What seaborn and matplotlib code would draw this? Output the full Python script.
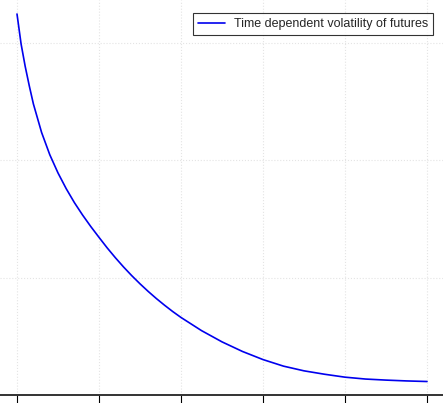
"""Time dependent volatility of futures - decay curve."""

import matplotlib

matplotlib.use("Agg")
import matplotlib.pyplot as plt
import pandas as pd
import seaborn as sns

# values
time_to_maturity = [0.0, 0.05, 0.1, 0.15, 0.2, 0.3, 0.4, 0.5, 0.6, 0.7, 0.8, 0.9,
                    1.0, 1.1, 1.2, 1.3, 1.4, 1.5, 1.6, 1.7, 1.8, 1.9, 2.0,
                    2.25, 2.5, 2.75, 3.0, 3.25, 3.5, 3.75, 4.0, 4.25, 4.5, 4.75, 5.0]
volatility = [3.248, 2.992, 2.801, 2.635, 2.481, 2.238, 2.048, 1.893, 1.759, 1.640,
              1.534, 1.436, 1.344, 1.254, 1.170, 1.091, 1.017, 0.948, 0.883, 0.822,
              0.765, 0.711, 0.661, 0.549, 0.453, 0.371, 0.302, 0.246, 0.206, 0.177,
              0.152, 0.136, 0.127, 0.120, 0.115]
x_ticks = [0, 1, 2, 3, 4, 5]
y_ticks = [0, 1, 2, 3]
series_label = "Time dependent volatility of futures"

sns.set_style("white")
plt.rcParams["font.family"] = ["Liberation Sans", "DejaVu Sans"]

data = pd.DataFrame({"t": time_to_maturity, "vol": volatility})

fig = plt.figure(figsize=(4.43, 4.03), dpi=100)
ax = fig.add_axes([0, 8 / 403, 1, 395 / 403])

sns.lineplot(data=data, x="t", y="vol", color="#0000ee", linewidth=1.2,
             label=series_label, ax=ax)

ax.set_xlim(-17 / 82, 426 / 82)
ax.set_ylim(0, 395 / 117.3)
ax.set_xticks(x_ticks)
ax.set_yticks(y_ticks)
ax.set_xticklabels([])
ax.set_yticklabels([])
ax.set_xlabel("")
ax.set_ylabel("")
ax.grid(True, color="#e4e4e4", linestyle=":", linewidth=0.8)
ax.tick_params(axis="x", direction="out", length=6, width=0.8, color="black", bottom=True)
ax.tick_params(axis="y", length=0)
for side in ("left", "top", "right"):
    ax.spines[side].set_visible(False)
ax.spines["bottom"].set_color("#333333")
ax.spines["bottom"].set_linewidth(1.4)

legend = ax.legend(loc="upper right", bbox_to_anchor=(433 / 443, 1 - 13 / 403),
                   bbox_transform=fig.transFigure, borderaxespad=0, fontsize=9,
                   frameon=True, fancybox=False, handlelength=2.2, handletextpad=0.7,
                   borderpad=0.4)
legend.get_frame().set_edgecolor("black")
legend.get_frame().set_linewidth(0.8)

fig.savefig("out.png", dpi=100)
plt.close(fig)
